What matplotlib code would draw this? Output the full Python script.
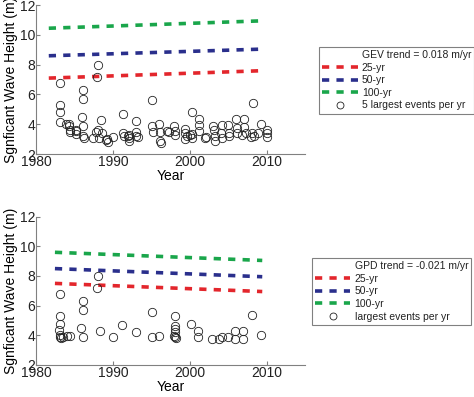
import matplotlib
matplotlib.use('Agg')
import matplotlib.pyplot as plt
from matplotlib.lines import Line2D

# ---- data ----
trend_years_gev = [1981.6, 2009.5]
gev_25 = [7.1, 7.6]
gev_50 = [8.6, 9.05]
gev_100 = [10.45, 10.95]

trend_years_gpd = [1982.4, 2009.4]
gpd_25 = [7.5, 6.95]
gpd_50 = [8.5, 7.95]
gpd_100 = [9.6, 9.05]

# 5 largest events per year (top panel)
top_years = [1983.1, 1983.1, 1983.1, 1983.1,
             1983.9, 1984.2, 1984.2, 1984.3, 1984.3,
             1985.1, 1985.2, 1985.2,
             1986.0, 1986.1, 1985.9, 1986.1, 1986.0, 1986.2,
             1987.3,
             1988.0, 1987.9, 1988.0, 1987.8, 1988.1,
             1988.4, 1988.5,
             1989.2, 1989.3, 1989.1,
             1989.9,
             1991.2, 1991.3, 1991.4,
             1992.0, 1991.9, 1992.0, 1992.1,
             1993.0, 1993.0, 1993.0, 1993.2,
             1995.1, 1995.0, 1995.2,
             1996.0, 1996.1, 1996.1, 1996.2,
             1997.0, 1997.2,
             1997.9, 1998.0, 1998.0,
             1999.3, 1999.3, 1999.3, 1999.6,
             2000.2, 2000.3, 2000.3, 2000.0,
             2001.2, 2001.2, 2001.2,
             2002.1, 2002.0,
             2003.0, 2003.1, 2003.2, 2003.2,
             2004.1, 2004.0, 2004.1,
             2005.0, 2005.1, 2005.1,
             2006.0, 2006.1, 2006.1,
             2007.0, 2007.0, 2007.3, 2006.8,
             2008.2, 2008.1, 2008.3, 2007.9,
             2009.2, 2008.8,
             2010.0, 2010.0, 2010.0]
top_hs = [6.8, 5.3, 4.8, 4.15,
          4.0, 3.9, 4.0, 3.6, 3.5,
          3.6, 3.55, 3.35,
          6.3, 5.7, 4.5, 3.9, 3.2, 3.1,
          3.1,
          8.0, 7.2, 3.6, 3.5, 3.05,
          4.3, 3.4,
          3.0, 2.8, 2.95,
          3.15,
          4.7, 3.4, 3.2,
          3.3, 3.2, 2.85, 3.1,
          4.2, 3.5, 3.2, 3.15,
          5.6, 3.9, 3.5,
          4.0, 3.5, 2.85, 2.75,
          3.55, 3.5,
          3.9, 3.55, 3.3,
          3.7, 3.4, 3.0, 3.2,
          4.8, 3.35, 3.05, 3.25,
          4.35, 3.95, 3.55,
          3.15, 3.05,
          3.85, 3.6, 3.2, 2.9,
          3.95, 3.4, 3.05,
          3.95, 3.4, 3.2,
          4.35, 3.75, 3.4,
          4.35, 3.8, 3.4, 3.25,
          5.45, 3.4, 3.2, 3.15,
          4.05, 3.4,
          3.6, 3.4, 3.15]

# largest events per year (bottom panel)
bot_years = [1983.1, 1983.1, 1983.1, 1982.9, 1983.1, 1983.0, 1983.2, 1983.4,
             1984.0, 1984.3,
             1985.8, 1986.0, 1986.1, 1986.1,
             1988.0, 1987.9, 1988.3,
             1990.0, 1991.1, 1993.0,
             1995.0, 1995.0, 1995.9,
             1998.0, 1998.1, 1998.1, 1998.0, 1997.9, 1998.1, 1998.2,
             2000.1, 2001.0, 2001.0,
             2002.8, 2003.8, 2004.1, 2005.0,
             2005.9, 2005.9, 2006.9, 2006.9,
             2008.1, 2009.3]
bot_hs = [6.8, 5.3, 4.77, 4.38, 4.02, 3.85, 3.78, 3.9,
          3.98, 3.92,
          4.5, 5.7, 6.28, 3.88,
          8.0, 7.17, 4.28,
          3.9, 4.7, 4.2,
          5.6, 3.88, 3.98,
          5.33, 4.6, 4.4, 4.2, 3.95, 3.85, 3.8,
          4.77, 4.28, 3.88,
          3.77, 3.72, 3.88, 3.88,
          4.28, 3.77, 4.28, 3.77,
          5.38, 4.02]

# ---- style ----
plt.rcParams['font.family'] = ['Liberation Sans', 'DejaVu Sans']
plt.rcParams['axes.edgecolor'] = '#808080'
plt.rcParams['axes.linewidth'] = 0.8
plt.rcParams['xtick.color'] = '#808080'
plt.rcParams['ytick.color'] = '#808080'
plt.rcParams['xtick.labelcolor'] = '#222222'
plt.rcParams['ytick.labelcolor'] = '#222222'
plt.rcParams['text.color'] = '#222222'

red = '#e3262c'
blue = '#2a2f8c'
green = '#1aa64b'

fig = plt.figure(figsize=(4.74, 3.97), dpi=100)
ax1 = fig.add_axes([0.077, 0.612, 0.567, 0.375])
ax2 = fig.add_axes([0.077, 0.081, 0.567, 0.373])


def draw(ax, tyears, r25, r50, r100, ey, eh, title, evlabel, leg_xy):
    ax.plot(tyears, r25, color=red, lw=2.6, dashes=(2, 2))
    ax.plot(tyears, r50, color=blue, lw=2.6, dashes=(2, 2))
    ax.plot(tyears, r100, color=green, lw=2.6, dashes=(2, 2))
    ax.plot(ey, eh, 'o', mfc='none', mec='#222222', ms=6, mew=0.6)

    ax.set_xlim(1980, 2015)
    ax.set_ylim(2, 12)
    ax.set_xticks([1980, 1990, 2000, 2010])
    ax.set_yticks([2, 4, 6, 8, 10, 12])
    ax.tick_params(direction='in', length=3, labelsize=10, pad=1)
    ax.set_xlabel('Year', fontsize=10, labelpad=0)
    ax.set_ylabel('Sgnficant Wave Height (m)', fontsize=10, labelpad=1)
    ax.spines['top'].set_visible(False)
    ax.spines['right'].set_visible(False)

    handles = [Line2D([], [], color='none'),
               Line2D([], [], color=red, lw=2.6, dashes=(2, 2)),
               Line2D([], [], color=blue, lw=2.6, dashes=(2, 2)),
               Line2D([], [], color=green, lw=2.6, dashes=(2, 2)),
               Line2D([], [], ls='none', marker='o', mfc='none', mec='#222222', ms=5, mew=0.6)]
    labels = [title, '25-yr', '50-yr', '100-yr', evlabel]
    leg = fig.legend(handles, labels, loc='upper left', bbox_to_anchor=leg_xy,
                     bbox_transform=fig.transFigure, fontsize=7.5, fancybox=False,
                     edgecolor='#808080', framealpha=1, handlelength=3.4,
                     handletextpad=0.4, labelspacing=0.25, borderpad=0.3,
                     borderaxespad=0)
    leg.get_frame().set_linewidth(0.8)


draw(ax1, trend_years_gev, gev_25, gev_50, gev_100, top_years, top_hs,
     'GEV trend = 0.018 m/yr', '5 largest events per yr', (0.673, 0.882))
draw(ax2, trend_years_gpd, gpd_25, gpd_50, gpd_100, bot_years, bot_hs,
     'GPD trend = -0.021 m/yr', 'largest events per yr', (0.658, 0.350))

fig.savefig('out.png', dpi=100)
